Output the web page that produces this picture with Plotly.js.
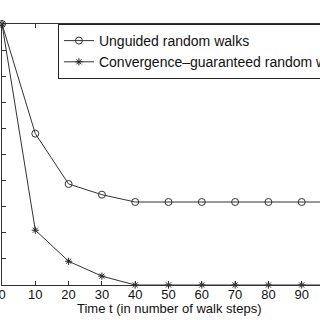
<!DOCTYPE html>
<html>
<head>
<meta charset="utf-8">
<script src="https://cdn.plot.ly/plotly-3.0.1.min.js"></script>
<style>
  html, body { margin: 0; padding: 0; width: 320px; height: 320px; overflow: hidden; background: #fff; }
  #chart { position: absolute; left: -50px; top: 0; width: 420px; height: 320px; }
</style>
</head>
<body>
<div id="chart"></div>
<script>
// Walk steps (x) and the fraction remaining for each strategy
const steps = [0, 10, 20, 30, 40, 50, 60, 70, 80, 90, 100];
const unguided = [1.0, 0.58, 0.387, 0.346, 0.318, 0.318, 0.318, 0.318, 0.318, 0.318, 0.318];
const guaranteed = [1.0, 0.21, 0.091, 0.034, 0.0, 0.0, 0.0, 0.0, 0.0, 0.0, 0.0];
const seriesNames = ['Unguided random walks', 'Convergence\u2013guaranteed random walks'];
const xTicks = [0, 10, 20, 30, 40, 50, 60, 70, 80, 90, 100];
const yTicks = [0, 0.1, 0.2, 0.3, 0.4, 0.5, 0.6, 0.7, 0.8, 0.9, 1];
const xTitle = 'Time t (in number of walk steps)';

const fontFamily = 'Liberation Sans, Arial, sans-serif';

const traces = [
  {
    x: steps, y: unguided, name: seriesNames[0], type: 'scatter', mode: 'lines+markers',
    line: { color: '#333', width: 1 },
    marker: { symbol: 'circle-open', size: 7, color: '#333', line: { width: 1 } },
    cliponaxis: false
  },
  {
    x: steps, y: guaranteed, name: seriesNames[1], type: 'scatter', mode: 'lines+markers',
    line: { color: '#333', width: 1 },
    marker: { symbol: 'asterisk-open', size: 6, color: '#222', line: { width: 1, color: '#222' } },
    cliponaxis: false
  }
];

const axisCommon = {
  showline: true, linecolor: '#333', linewidth: 1, mirror: 'ticks',
  ticks: 'inside', ticklen: 4, tickcolor: '#333', showgrid: false, zeroline: false,
  tickfont: { family: fontFamily, size: 13, color: '#111' }
};

const layout = {
  width: 420, height: 320,
  margin: { l: 52, r: 35, t: 24, b: 35 },
  paper_bgcolor: '#fff', plot_bgcolor: '#fff',
  showlegend: true,
  legend: {
    x: 0.168, y: 1.0, xanchor: 'left', yanchor: 'top',
    bgcolor: '#fff', bordercolor: '#222', borderwidth: 1,
    font: { family: fontFamily, size: 14, color: '#111' },
    tracegroupgap: 0
  },
  xaxis: Object.assign({}, axisCommon, {
    range: [0, 100], tickvals: xTicks, ticktext: xTicks.map(String),
    ticklabelstandoff: -3
  }),
  yaxis: Object.assign({}, axisCommon, {
    range: [0, 1], tickvals: yTicks
  }),
  // x-axis title placed just under the tick labels
  annotations: [{
    text: xTitle, xref: 'paper', yref: 'paper', x: 0.5, y: 0,
    xanchor: 'center', yanchor: 'top', yshift: -14, showarrow: false,
    font: { family: fontFamily, size: 13, color: '#111' }
  }]
};

Plotly.newPlot('chart', traces, layout, { displayModeBar: false, staticPlot: true });
</script>
</body>
</html>
